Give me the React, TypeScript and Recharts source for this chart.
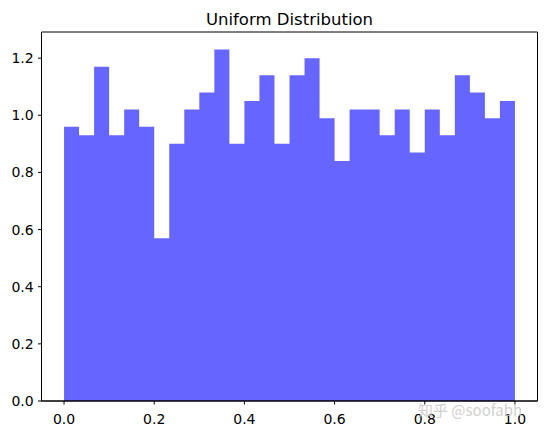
import { Area, ComposedChart, Label, ReferenceArea, XAxis, YAxis } from 'recharts';

const title = 'Uniform Distribution';
const watermark = '知乎 @soofabh';

// density of each of the 30 equal-width bins over [0, 1]
const binDensity = [
  0.96, 0.93, 1.17, 0.93, 1.02, 0.96, 0.57, 0.9, 1.02, 1.08, 1.23, 0.9, 1.05, 1.14, 0.9,
  1.14, 1.2, 0.99, 0.84, 1.02, 1.02, 0.93, 1.02, 0.87, 1.02, 0.93, 1.14, 1.08, 0.99, 1.05,
];
const xTicks = [0, 0.2, 0.4, 0.6, 0.8, 1.0];
const yTicks = [0, 0.2, 0.4, 0.6, 0.8, 1.0, 1.2];

const xDomain: [number, number] = [-0.05, 1.05];
const yDomain: [number, number] = [0, 1.2915];

// step histogram: one point per left bin edge, plus the closing right edge
const data = [
  ...binDensity.map((d, i) => ({ x: i / binDensity.length, density: d })),
  { x: 1, density: binDensity[binDensity.length - 1] },
];

const font = { fontFamily: 'DejaVu Sans', fontSize: 14, fill: '#000' };
const fmt = (v: number) => v.toFixed(1);

export default function App() {
  return (
    <div
      style={{
        position: 'absolute',
        top: 0,
        left: 0,
        width: 547,
        height: 435,
        background: '#fff',
      }}
    >
      <ComposedChart
        width={547}
        height={435}
        data={data}
        margin={{ top: 32, right: 9.5, bottom: 0, left: 0 }}
      >
        <XAxis
          dataKey="x"
          type="number"
          domain={xDomain}
          ticks={xTicks}
          tickFormatter={fmt}
          tick={font}
          tickSize={3.5}
          tickMargin={10}
          height={34}
          stroke="#000"
          allowDataOverflow
        />
        <YAxis
          type="number"
          domain={yDomain}
          ticks={yTicks}
          tickFormatter={fmt}
          tick={font}
          tickSize={3.5}
          tickMargin={4.3}
          width={41.5}
          stroke="#000"
          allowDataOverflow
        />
        <Area
          dataKey="density"
          type="stepAfter"
          fill="#6666ff"
          fillOpacity={1}
          stroke="none"
          baseValue={0}
          isAnimationActive={false}
        />
        {/* plot frame (all four spines) and the title above it */}
        <ReferenceArea
          x1={xDomain[0]}
          x2={xDomain[1]}
          y1={yDomain[0]}
          y2={yDomain[1]}
          fill="none"
          fillOpacity={0}
          stroke="#000"
          strokeWidth={1}
          ifOverflow="visible"
        >
          <Label
            value={title}
            position="top"
            offset={7}
            style={{ fontFamily: 'DejaVu Sans', fontSize: 16.5, fill: '#000' }}
          />
        </ReferenceArea>
      </ComposedChart>
      <div
        style={{
          position: 'absolute',
          left: 418,
          top: 399,
          fontFamily: '"Noto Sans CJK SC", "Noto Sans"',
          fontSize: 15,
          color: '#c8c8c8',
          opacity: 0.85,
          whiteSpace: 'nowrap',
        }}
      >
        {watermark}
      </div>
    </div>
  );
}
